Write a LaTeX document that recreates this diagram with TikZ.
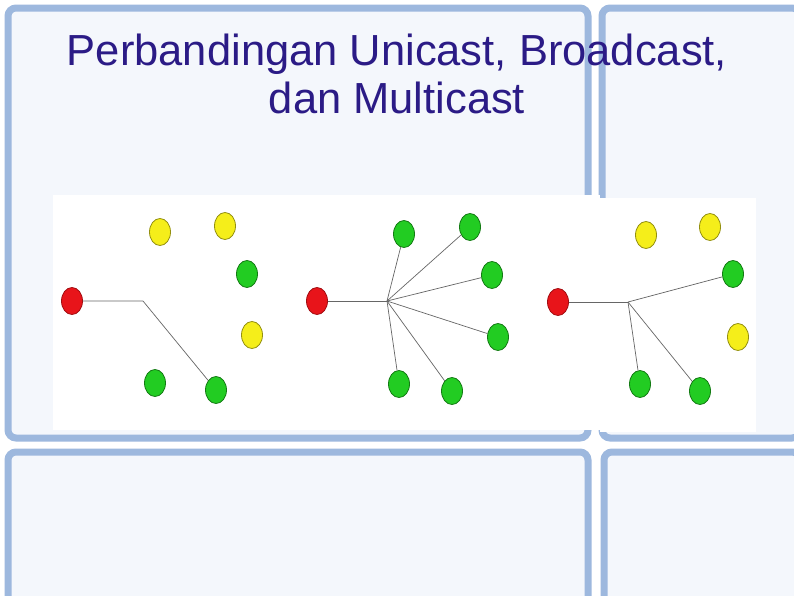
\documentclass[tikz,border=0pt]{standalone}
\usepackage{fontspec}
\setmainfont{Liberation Sans}
\usetikzlibrary{shapes.geometric}
\definecolor{frameblue}{HTML}{9DB8DE}
\definecolor{framein}{HTML}{F4F7FC}
\definecolor{titlec}{HTML}{2B1B86}
\definecolor{nred}{HTML}{E8141A}
\definecolor{nyel}{HTML}{F5EE1A}
\definecolor{ngrn}{HTML}{22CC22}
\tikzset{
  panel/.style={draw=frameblue,line width=7pt,fill=framein,rounded corners=8pt},
  dot/.style={ellipse,minimum width=21pt,minimum height=27pt,inner sep=0pt,line width=0.8pt},
  rdot/.style={dot,fill=nred,draw=nred!70!black},
  ydot/.style={dot,fill=nyel,draw=nyel!60!black},
  gdot/.style={dot,fill=ngrn,draw=ngrn!60!black},
  link/.style={draw=black!60,line width=0.7pt},
  ttl/.style={text=titlec,font=\fontsize{43.5}{48}\selectfont,align=center}
}
\begin{document}
\begin{tikzpicture}[x=1pt,y=-1pt]
\useasboundingbox (0,0) rectangle (794,595);
\fill[white] (0,0) rectangle (794,595);
\draw[panel] (8,8) rectangle (588,438);
\draw[panel] (602,8) rectangle (800,438);
\draw[panel] (8,452) rectangle (588,605);
\draw[panel] (604,452) rectangle (800,605);
\fill[white] (53,195) rectangle (600,430);
\fill[white] (600,198) rectangle (756,432);
\node[ttl] (title) at (397,74) {Perbandingan Unicast, Broadcast,\\dan Multicast};
% diagram 1
\coordinate (h1) at (143,301);
\node[rdot] (r1) at (72,301) {};
\node[ydot] (y11) at (160,232) {};
\node[ydot] (y12) at (225,226) {};
\node[ydot] (y13) at (252,335) {};
\node[gdot] (g11) at (247,274) {};
\node[gdot] (g12) at (155,383) {};
\node[gdot] (g13) at (216,390) {};
\draw[link] (r1) -- (h1) -- (g13);
% diagram 2
\coordinate (h2) at (387,301);
\node[rdot] (r2) at (317,301) {};
\node[gdot] (g21) at (404,234) {};
\node[gdot] (g22) at (470,227) {};
\node[gdot] (g23) at (492,275) {};
\node[gdot] (g24) at (498,337) {};
\node[gdot] (g25) at (399,384) {};
\node[gdot] (g26) at (452,391) {};
\draw[link] (r2) -- (h2);
\foreach \n in {g21,g22,g23,g24,g25,g26} \draw[link] (h2) -- (\n);
% diagram 3
\coordinate (h3) at (628,302);
\node[rdot] (r3) at (558,302) {};
\node[ydot] (y31) at (646,235) {};
\node[ydot] (y32) at (710,227) {};
\node[ydot] (y33) at (738,337) {};
\node[gdot] (g31) at (733,274) {};
\node[gdot] (g32) at (640,384) {};
\node[gdot] (g33) at (700,391) {};
\draw[link] (r3) -- (h3);
\foreach \n in {g31,g32,g33} \draw[link] (h3) -- (\n);
\end{tikzpicture}
\end{document}
